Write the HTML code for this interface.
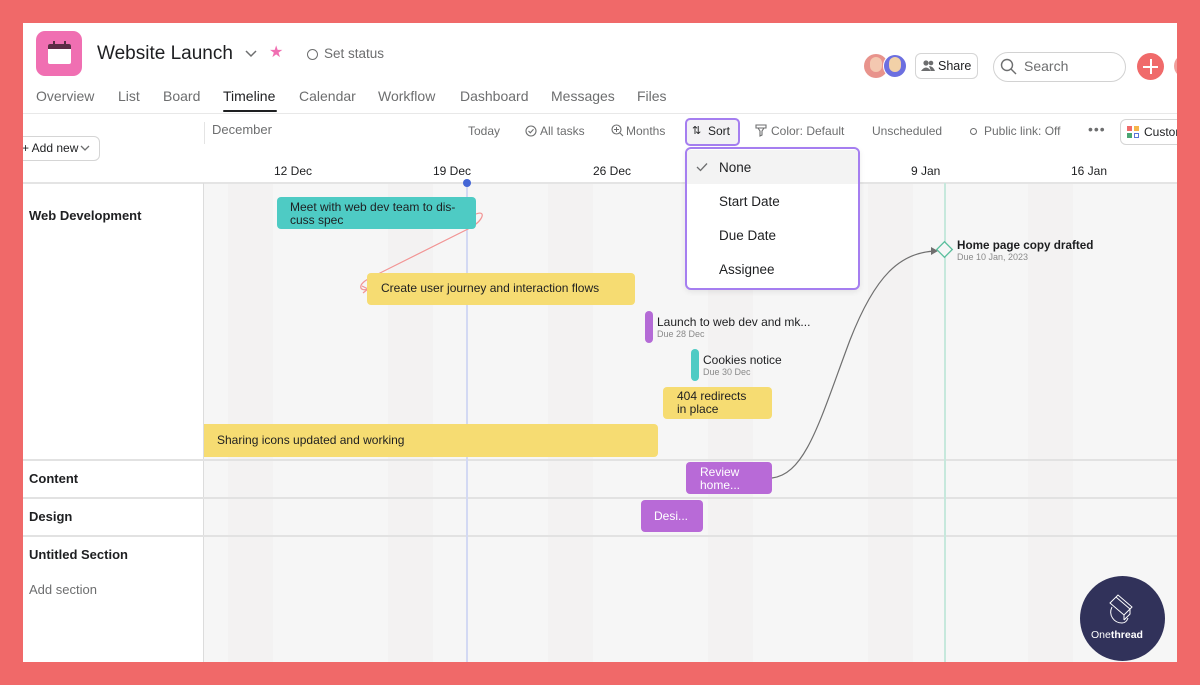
<!DOCTYPE html>
<html><head><meta charset="utf-8"><style>
*{margin:0;padding:0;box-sizing:border-box}
body{width:1200px;height:685px;position:relative;overflow:hidden;background:#fff;font-family:"Liberation Sans",sans-serif;color:#1e1f21}
.a{position:absolute;white-space:nowrap}
.t{font-size:14px;line-height:16px;color:#6d6e6f}
.tb{font-size:12px;line-height:16px;color:#6d6e6f}
.dl{font-size:12px;line-height:16px;color:#1e1f21}
.bar{position:absolute;border-radius:4px}
.tk{font-size:12px;line-height:13px;color:#1e1f21}
.sec{font-size:13px;font-weight:bold;line-height:16px;color:#1e1f21}
.dd{font-size:13.5px;line-height:16px;color:#1e1f21}
.bd{position:absolute;background:#f06969;z-index:50}
.st{position:absolute;top:184px;width:45px;height:478px;background:#f3f2f2}
</style></head><body>

<!-- timeline background -->
<div class="a" style="left:204px;top:184px;width:973px;height:478px;background:#f6f6f6"></div>
<div class="st" style="left:228px"></div>
<div class="st" style="left:388px"></div>
<div class="st" style="left:548px"></div>
<div class="st" style="left:708px"></div>
<div class="st" style="left:868px"></div>
<div class="st" style="left:1028px"></div>

<!-- lines -->
<div class="a" style="left:23px;top:113px;width:1154px;height:1px;background:#e8e8e8"></div>
<div class="a" style="left:23px;top:182px;width:1154px;height:2px;background:#e4e4e4"></div>
<div class="a" style="left:203px;top:183px;width:1px;height:479px;background:#dcdcdc"></div>
<div class="a" style="left:204px;top:122px;width:1px;height:22px;background:#e4e4e4"></div>
<div class="a" style="left:23px;top:459px;width:1154px;height:2px;background:#e2e2e2"></div>
<div class="a" style="left:23px;top:497px;width:1154px;height:2px;background:#e2e2e2"></div>
<div class="a" style="left:23px;top:535px;width:1154px;height:2px;background:#e2e2e2"></div>
<div class="a" style="left:466px;top:183px;width:2px;height:479px;background:#d3d9f3"></div>
<div class="a" style="left:944px;top:183px;width:2px;height:479px;background:#c6e8dc"></div>
<div class="a" style="left:463px;top:179px;width:8px;height:8px;border-radius:50%;background:#4466d6"></div>

<!-- header -->
<div class="a" style="left:36px;top:31px;width:46px;height:45px;border-radius:9px;background:#f06fb2"></div>
<div class="a" style="left:48px;top:44px;width:23px;height:20px;border-radius:2px;background:#fff"></div>
<div class="a" style="left:48px;top:44px;width:23px;height:5px;border-radius:2px 2px 0 0;background:#5c2c45"></div>
<div class="a" style="left:53px;top:41px;width:2px;height:5px;background:#5c2c45"></div>
<div class="a" style="left:64px;top:41px;width:2px;height:5px;background:#5c2c45"></div>
<div class="a" style="left:97px;top:43px;font-size:19px;line-height:22px;color:#1e1f21">Website Launch</div>
<svg class="a" style="left:244px;top:48px" width="14" height="10"><polyline points="2,3 7,8 12,3" fill="none" stroke="#6d6e6f" stroke-width="1.5"/></svg>
<div class="a" style="left:269px;top:44px;font-size:16px;line-height:18px;color:#f06fb2">★</div>
<div class="a" style="left:307px;top:49px;width:11px;height:11px;border-radius:50%;border:1.3px solid #6d6e6f"></div>
<div class="a" style="left:324px;top:46px;font-size:13.5px;line-height:16px;color:#6d6e6f">Set status</div>

<!-- tabs -->
<div class="a t" style="left:36px;top:88px">Overview</div>
<div class="a t" style="left:118px;top:88px">List</div>
<div class="a t" style="left:163px;top:88px">Board</div>
<div class="a t" style="left:223px;top:88px;color:#1e1f21">Timeline</div>
<div class="a" style="left:223px;top:110px;width:54px;height:2px;background:#1e1f21;border-radius:1px"></div>
<div class="a t" style="left:299px;top:88px">Calendar</div>
<div class="a t" style="left:378px;top:88px">Workflow</div>
<div class="a t" style="left:460px;top:88px">Dashboard</div>
<div class="a t" style="left:551px;top:88px">Messages</div>
<div class="a t" style="left:637px;top:88px">Files</div>

<!-- header right -->
<div class="a" style="left:864px;top:54px;width:24px;height:24px;border-radius:50%;background:#e8938c"></div>
<div class="a" style="left:870px;top:57px;width:12px;height:15px;border-radius:6px;background:#f4c8b0"></div>
<div class="a" style="left:883px;top:54px;width:24px;height:24px;border-radius:50%;background:#6c6fe0;border:1px solid #fff"></div>
<div class="a" style="left:889px;top:57px;width:12px;height:15px;border-radius:6px;background:#f2d1a8"></div>
<div class="a" style="left:915px;top:53px;width:63px;height:26px;border:1px solid #d5d5d5;border-radius:6px"></div>
<svg class="a" style="left:921px;top:59px" width="14" height="14"><circle cx="5" cy="4" r="2.6" fill="#6d6e6f"/><path d="M0 12 Q5 5 10 12Z" fill="#6d6e6f"/><circle cx="10" cy="4" r="2.3" fill="#6d6e6f"/><path d="M8 7 Q12 7 14 12 L10 12Z" fill="#6d6e6f"/></svg>
<div class="a" style="left:938px;top:58px;font-size:12.5px;line-height:16px;color:#1e1f21">Share</div>
<div class="a" style="left:993px;top:52px;width:133px;height:30px;border:1px solid #d2d2d2;border-radius:15px"></div>
<svg class="a" style="left:1000px;top:58px" width="18" height="18"><circle cx="7" cy="7" r="5.5" fill="none" stroke="#6d6e6f" stroke-width="1.4"/><line x1="11" y1="11" x2="16" y2="16" stroke="#6d6e6f" stroke-width="1.4"/></svg>
<div class="a" style="left:1024px;top:58px;font-size:14px;line-height:16px;color:#6d6e6f">Search</div>
<div class="a" style="left:1137px;top:53px;width:27px;height:27px;border-radius:50%;background:#f06a6a"></div>
<div class="a" style="left:1143px;top:66px;width:15px;height:2px;background:#fff"></div>
<div class="a" style="left:1149.5px;top:59px;width:2px;height:15px;background:#fff"></div>
<div class="a" style="left:1174px;top:54px;width:24px;height:24px;border-radius:50%;background:#ef9e9a"></div>

<!-- toolbar -->
<div class="a" style="left:212px;top:122px;font-size:13px;line-height:16px;color:#6d6e6f">December</div>
<div class="a" style="left:10px;top:136px;width:90px;height:25px;border:1px solid #d5d5d5;border-radius:6px;background:#fff"></div>
<div class="a" style="left:22px;top:140px;font-size:12px;line-height:16px;color:#1e1f21">+ Add new</div>
<svg class="a" style="left:80px;top:144px" width="10" height="8"><polyline points="1,2 5,6 9,2" fill="none" stroke="#6d6e6f" stroke-width="1.3"/></svg>
<div class="a tb" style="left:468px;top:123px">Today</div>
<svg class="a" style="left:525px;top:125px" width="12" height="12"><circle cx="6" cy="6" r="5" fill="none" stroke="#6d6e6f" stroke-width="1.1"/><polyline points="3.5,6 5.3,7.8 8.5,4.3" fill="none" stroke="#6d6e6f" stroke-width="1.1"/></svg>
<div class="a tb" style="left:540px;top:123px">All tasks</div>
<svg class="a" style="left:611px;top:124px" width="13" height="13"><circle cx="5.5" cy="5.5" r="4.5" fill="none" stroke="#6d6e6f" stroke-width="1.1"/><line x1="9" y1="9" x2="12" y2="12" stroke="#6d6e6f" stroke-width="1.1"/><line x1="3" y1="5.5" x2="8" y2="5.5" stroke="#6d6e6f"/><line x1="5.5" y1="3" x2="5.5" y2="8" stroke="#6d6e6f"/></svg>
<div class="a tb" style="left:626px;top:123px">Months</div>
<div class="a" style="left:685px;top:118px;width:55px;height:28px;border:2px solid #a57ef0;border-radius:5px;background:#f3f2f4"></div>
<div class="a" style="left:692px;top:123px;font-size:11px;line-height:16px;color:#1e1f21;letter-spacing:-1px">⇅</div>
<div class="a tb" style="left:708px;top:123px;color:#1e1f21">Sort</div>
<svg class="a" style="left:755px;top:124px" width="12" height="13"><path d="M1 1 H11 V4 H1Z M3 4 L5 7 V12 L7 11 V7 L9 4" fill="none" stroke="#6d6e6f" stroke-width="1.1"/></svg>
<div class="a tb" style="left:771px;top:123px">Color: Default</div>
<div class="a tb" style="left:872px;top:123px">Unscheduled</div>
<div class="a" style="left:970px;top:128px;width:7px;height:7px;border-radius:50%;border:1.2px solid #6d6e6f"></div>
<div class="a tb" style="left:984px;top:123px">Public link: Off</div>
<div class="a tb" style="left:1088px;top:121px;font-size:14px;letter-spacing:1px;color:#6d6e6f">•••</div>
<div class="a" style="left:1120px;top:119px;width:70px;height:26px;border:1px solid #d5d5d5;border-radius:6px;background:#fff"></div>
<div class="a" style="left:1127px;top:126px;width:5px;height:5px;background:#ef6a6a"></div>
<div class="a" style="left:1134px;top:126px;width:5px;height:5px;background:#f6b64a"></div>
<div class="a" style="left:1127px;top:133px;width:5px;height:5px;background:#4ba673"></div>
<div class="a" style="left:1134px;top:133px;width:5px;height:5px;border:1px solid #5a74d8"></div>
<div class="a tb" style="left:1144px;top:124px;color:#1e1f21">Customize</div>

<!-- dates -->
<div class="a dl" style="left:274px;top:163px">12 Dec</div>
<div class="a dl" style="left:433px;top:163px">19 Dec</div>
<div class="a dl" style="left:593px;top:163px">26 Dec</div>
<div class="a dl" style="left:911px;top:163px">9 Jan</div>
<div class="a dl" style="left:1071px;top:163px">16 Jan</div>

<!-- sections -->
<div class="a sec" style="left:29px;top:208px">Web Development</div>
<div class="a sec" style="left:29px;top:471px">Content</div>
<div class="a sec" style="left:29px;top:509px">Design</div>
<div class="a sec" style="left:29px;top:547px">Untitled Section</div>
<div class="a" style="left:29px;top:582px;font-size:13px;line-height:16px;color:#6d6e6f">Add section</div>

<!-- connectors -->
<svg class="a" style="left:0;top:0" width="1200" height="685">
<path d="M476 214 C486 210 484 220 470 228 L370 278 C356 285 360 292 368 289" fill="none" stroke="#f29494" stroke-width="1.2"/>
<path d="M362 286 L368 289 L363 293" fill="none" stroke="#f29494" stroke-width="1.2"/>
<path d="M772 478 C806 474 820 420 850 340 C875 276 900 252 936 251" fill="none" stroke="#6f6f6f" stroke-width="1.2"/>
<path d="M931 247 L938 251 L931 255Z" fill="#6f6f6f"/>
<rect x="939" y="244" width="11" height="11" transform="rotate(45 944.5 249.5)" fill="#f6f6f6" stroke="#5bbf9d" stroke-width="1.3"/>
</svg>

<!-- tasks -->
<div class="bar" style="left:277px;top:197px;width:199px;height:32px;background:#4ecbc4"></div>
<div class="a tk" style="left:290px;top:201px">Meet with web dev team to dis-<br>cuss spec</div>
<div class="bar" style="left:367px;top:273px;width:268px;height:32px;background:#f6dc72"></div>
<div class="a tk" style="left:381px;top:282px">Create user journey and interaction flows</div>
<div class="bar" style="left:645px;top:311px;width:8px;height:32px;background:#b46bd6"></div>
<div class="a tk" style="left:657px;top:316px">Launch to web dev and mk...</div>
<div class="a" style="left:657px;top:329px;font-size:9px;line-height:10px;color:#8a8a8a">Due 28 Dec</div>
<div class="bar" style="left:691px;top:349px;width:8px;height:32px;background:#4ecbc4"></div>
<div class="a tk" style="left:703px;top:354px">Cookies notice</div>
<div class="a" style="left:703px;top:367px;font-size:9px;line-height:10px;color:#8a8a8a">Due 30 Dec</div>
<div class="bar" style="left:663px;top:387px;width:109px;height:32px;background:#f6dc72"></div>
<div class="a tk" style="left:677px;top:390px">404 redirects<br>in place</div>
<div class="bar" style="left:204px;top:424px;width:454px;height:33px;background:#f6dc72;border-radius:0 4px 4px 0"></div>
<div class="a tk" style="left:217px;top:434px">Sharing icons updated and working</div>
<div class="bar" style="left:686px;top:462px;width:86px;height:32px;background:#b86ad7"></div>
<div class="a tk" style="left:700px;top:466px;color:#fff">Review<br>home...</div>
<div class="bar" style="left:641px;top:500px;width:62px;height:32px;background:#b86ad7"></div>
<div class="a tk" style="left:654px;top:510px;color:#fff">Desi...</div>
<div class="a" style="left:957px;top:239px;font-size:11.7px;font-weight:bold;line-height:14px;color:#1e1f21">Home page copy drafted</div>
<div class="a" style="left:957px;top:252px;font-size:9px;line-height:10px;color:#8a8a8a">Due 10 Jan, 2023</div>

<!-- dropdown -->
<div class="a" style="left:685px;top:147px;width:175px;height:143px;border:2px solid #a57ef0;border-radius:6px;background:#fff;box-shadow:0 2px 6px rgba(0,0,0,.08);overflow:hidden">
  <div style="position:absolute;left:0;top:1px;width:171px;height:34px;background:#f3f3f3"></div>
</div>
<svg class="a" style="left:696px;top:162px" width="12" height="10"><polyline points="1,5 4.5,8.5 11,1.5" fill="none" stroke="#6d6e6f" stroke-width="1.3"/></svg>
<div class="a dd" style="left:719px;top:160px">None</div>
<div class="a dd" style="left:719px;top:194px">Start Date</div>
<div class="a dd" style="left:719px;top:228px">Due Date</div>
<div class="a dd" style="left:719px;top:262px">Assignee</div>

<!-- badge -->
<div class="a" style="left:1080px;top:576px;width:85px;height:85px;border-radius:50%;background:#31325a;z-index:10"></div>
<svg class="a" style="left:1100px;top:585px;z-index:11" width="44" height="42">
<path d="M10 18 L16 12 L30 24 L24 30 Z M16 12 L18 10 L32 22 L30 24 M24 30 L24 35 M30 24 L30 29 L24 35" fill="none" stroke="#fff" stroke-width="1"/>
<path d="M12 22 C8 30 14 38 22 38 C25 38 27 36 28 33" fill="none" stroke="#fff" stroke-width="1"/>
</svg>
<div class="a" style="left:1091px;top:629px;font-size:10.5px;line-height:13px;color:#fff;z-index:11">One<b>thread</b></div>

<!-- border -->
<div class="bd" style="left:0;top:0;width:1200px;height:23px"></div>
<div class="bd" style="left:0;top:662px;width:1200px;height:23px"></div>
<div class="bd" style="left:0;top:0;width:23px;height:685px"></div>
<div class="bd" style="left:1177px;top:0;width:23px;height:685px"></div>
</body></html>
